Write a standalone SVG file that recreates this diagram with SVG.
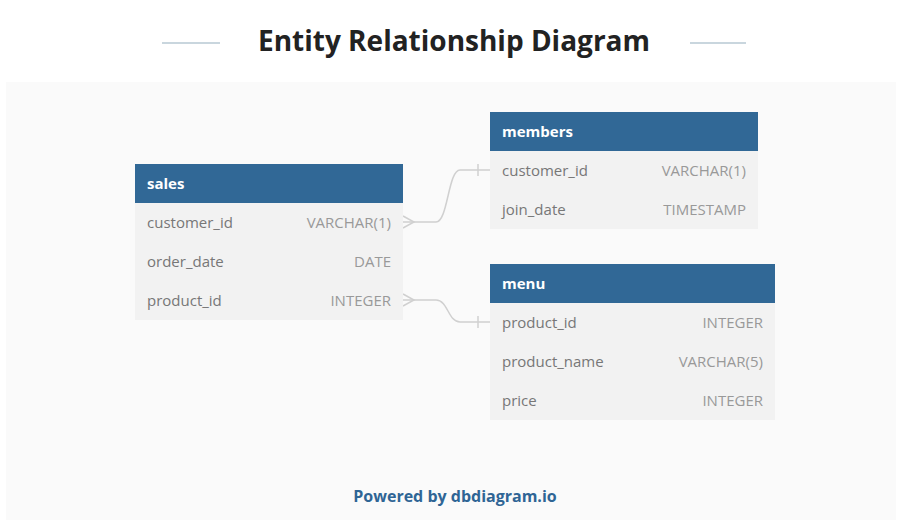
<svg xmlns="http://www.w3.org/2000/svg" width="902" height="531" viewBox="0 0 902 531">
<style>
.h{fill:#316896}.r{fill:#f2f2f2}
.ht{font:bold 15px "Open Sans",sans-serif;fill:#fff}
.f{font:15px "Open Sans",sans-serif;fill:#777}
.t{font:15px "Open Sans",sans-serif;fill:#999;text-anchor:end}
.c{fill:none;stroke:#d0d0d0;stroke-width:1.5}
</style>
<rect width="902" height="531" fill="#fff"/>
<rect x="6" y="82" width="890" height="438" fill="#fafafa"/>
<line x1="162" y1="43" x2="220" y2="43" stroke="#b7c9d3" stroke-width="1.5"/>
<line x1="690" y1="43" x2="746" y2="43" stroke="#b7c9d3" stroke-width="1.5"/>
<text x="454" y="51" text-anchor="middle" style="font:bold 28px 'Open Sans',sans-serif;fill:#222">Entity Relationship Diagram</text>
<g id="connectors">
<path class="c" d="M403,222 H436 C448,222 448,170 460,170 H490"/>
<path class="c" d="M403,216 L414,222 L403,228"/>
<path class="c" d="M478,164 V176"/>
<path class="c" d="M403,300 H436 C448,300 448,322 460,322 H490"/>
<path class="c" d="M403,294 L414,300 L403,306"/>
<path class="c" d="M478,316 V328"/>
</g>
<g id="sales">
<rect class="h" x="135" y="164" width="268" height="39"/>
<rect class="r" x="135" y="203" width="268" height="117"/>
<text class="ht" x="147" y="189">sales</text>
<text class="f" x="147" y="228">customer_id</text><text class="t" x="391" y="228">VARCHAR(1)</text>
<text class="f" x="147" y="267">order_date</text><text class="t" x="391" y="267">DATE</text>
<text class="f" x="147" y="306">product_id</text><text class="t" x="391" y="306">INTEGER</text>
</g>
<g id="members">
<rect class="h" x="490" y="112" width="268" height="39"/>
<rect class="r" x="490" y="151" width="268" height="78"/>
<text class="ht" x="502" y="137">members</text>
<text class="f" x="502" y="176">customer_id</text><text class="t" x="746" y="176">VARCHAR(1)</text>
<text class="f" x="502" y="215">join_date</text><text class="t" x="746" y="215">TIMESTAMP</text>
</g>
<g id="menu">
<rect class="h" x="490" y="264" width="285" height="39"/>
<rect class="r" x="490" y="303" width="285" height="117"/>
<text class="ht" x="502" y="289">menu</text>
<text class="f" x="502" y="328">product_id</text><text class="t" x="763" y="328">INTEGER</text>
<text class="f" x="502" y="367">product_name</text><text class="t" x="763" y="367">VARCHAR(5)</text>
<text class="f" x="502" y="406">price</text><text class="t" x="763" y="406">INTEGER</text>
</g>
<text x="455" y="502" text-anchor="middle" style="font:bold 16px 'Open Sans',sans-serif;fill:#2f6595">Powered by dbdiagram.io</text>
</svg>
